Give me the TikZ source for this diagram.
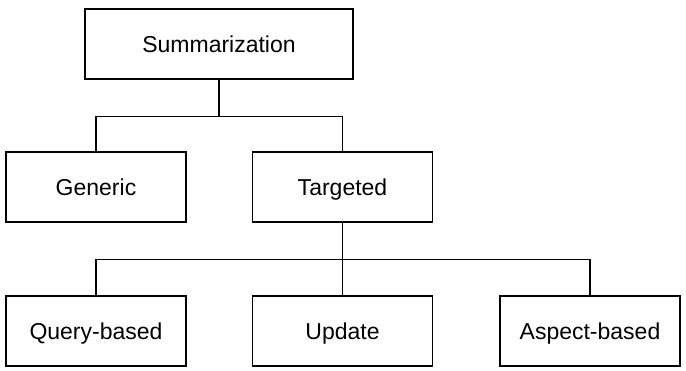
\documentclass[tikz,border=0pt]{standalone}
\usepackage{fontspec}
\setmainfont{Liberation Sans}
\usepackage{tikz}
\usetikzlibrary{positioning}

\begin{document}
\begin{tikzpicture}[x=1pt,y=-1pt,line width=1.3pt,
  box/.style={draw,rectangle,minimum width=180pt,minimum height=70pt,inner sep=0pt,
    text height=16.5pt,text depth=0pt,font=\fontsize{23}{27}\selectfont},
  link/.style={line width=1.3pt}]
  \useasboundingbox (0,0) rectangle (686,370);
  % root
  \node[box,minimum width=268pt] (sum) at (219,44) {Summarization};
  % second level
  \node[box] (gen) at (96,187) {Generic};
  \node[box] (tar) at (342.5,187) {Targeted};
  % third level
  \node[box] (qry) at (96,331) {Query-based};
  \node[box] (upd) at (342.5,331) {Update};
  \node[box] (asp) at (590,331) {Aspect-based};
  % connectors
  \foreach \b in {gen,tar}{\draw[link] (sum.south) -- ++(0,37) -| (\b.north);}
  \foreach \b in {qry,upd,asp}{\draw[link] (tar.south) -- ++(0,37) -| (\b.north);}
\end{tikzpicture}
\end{document}
